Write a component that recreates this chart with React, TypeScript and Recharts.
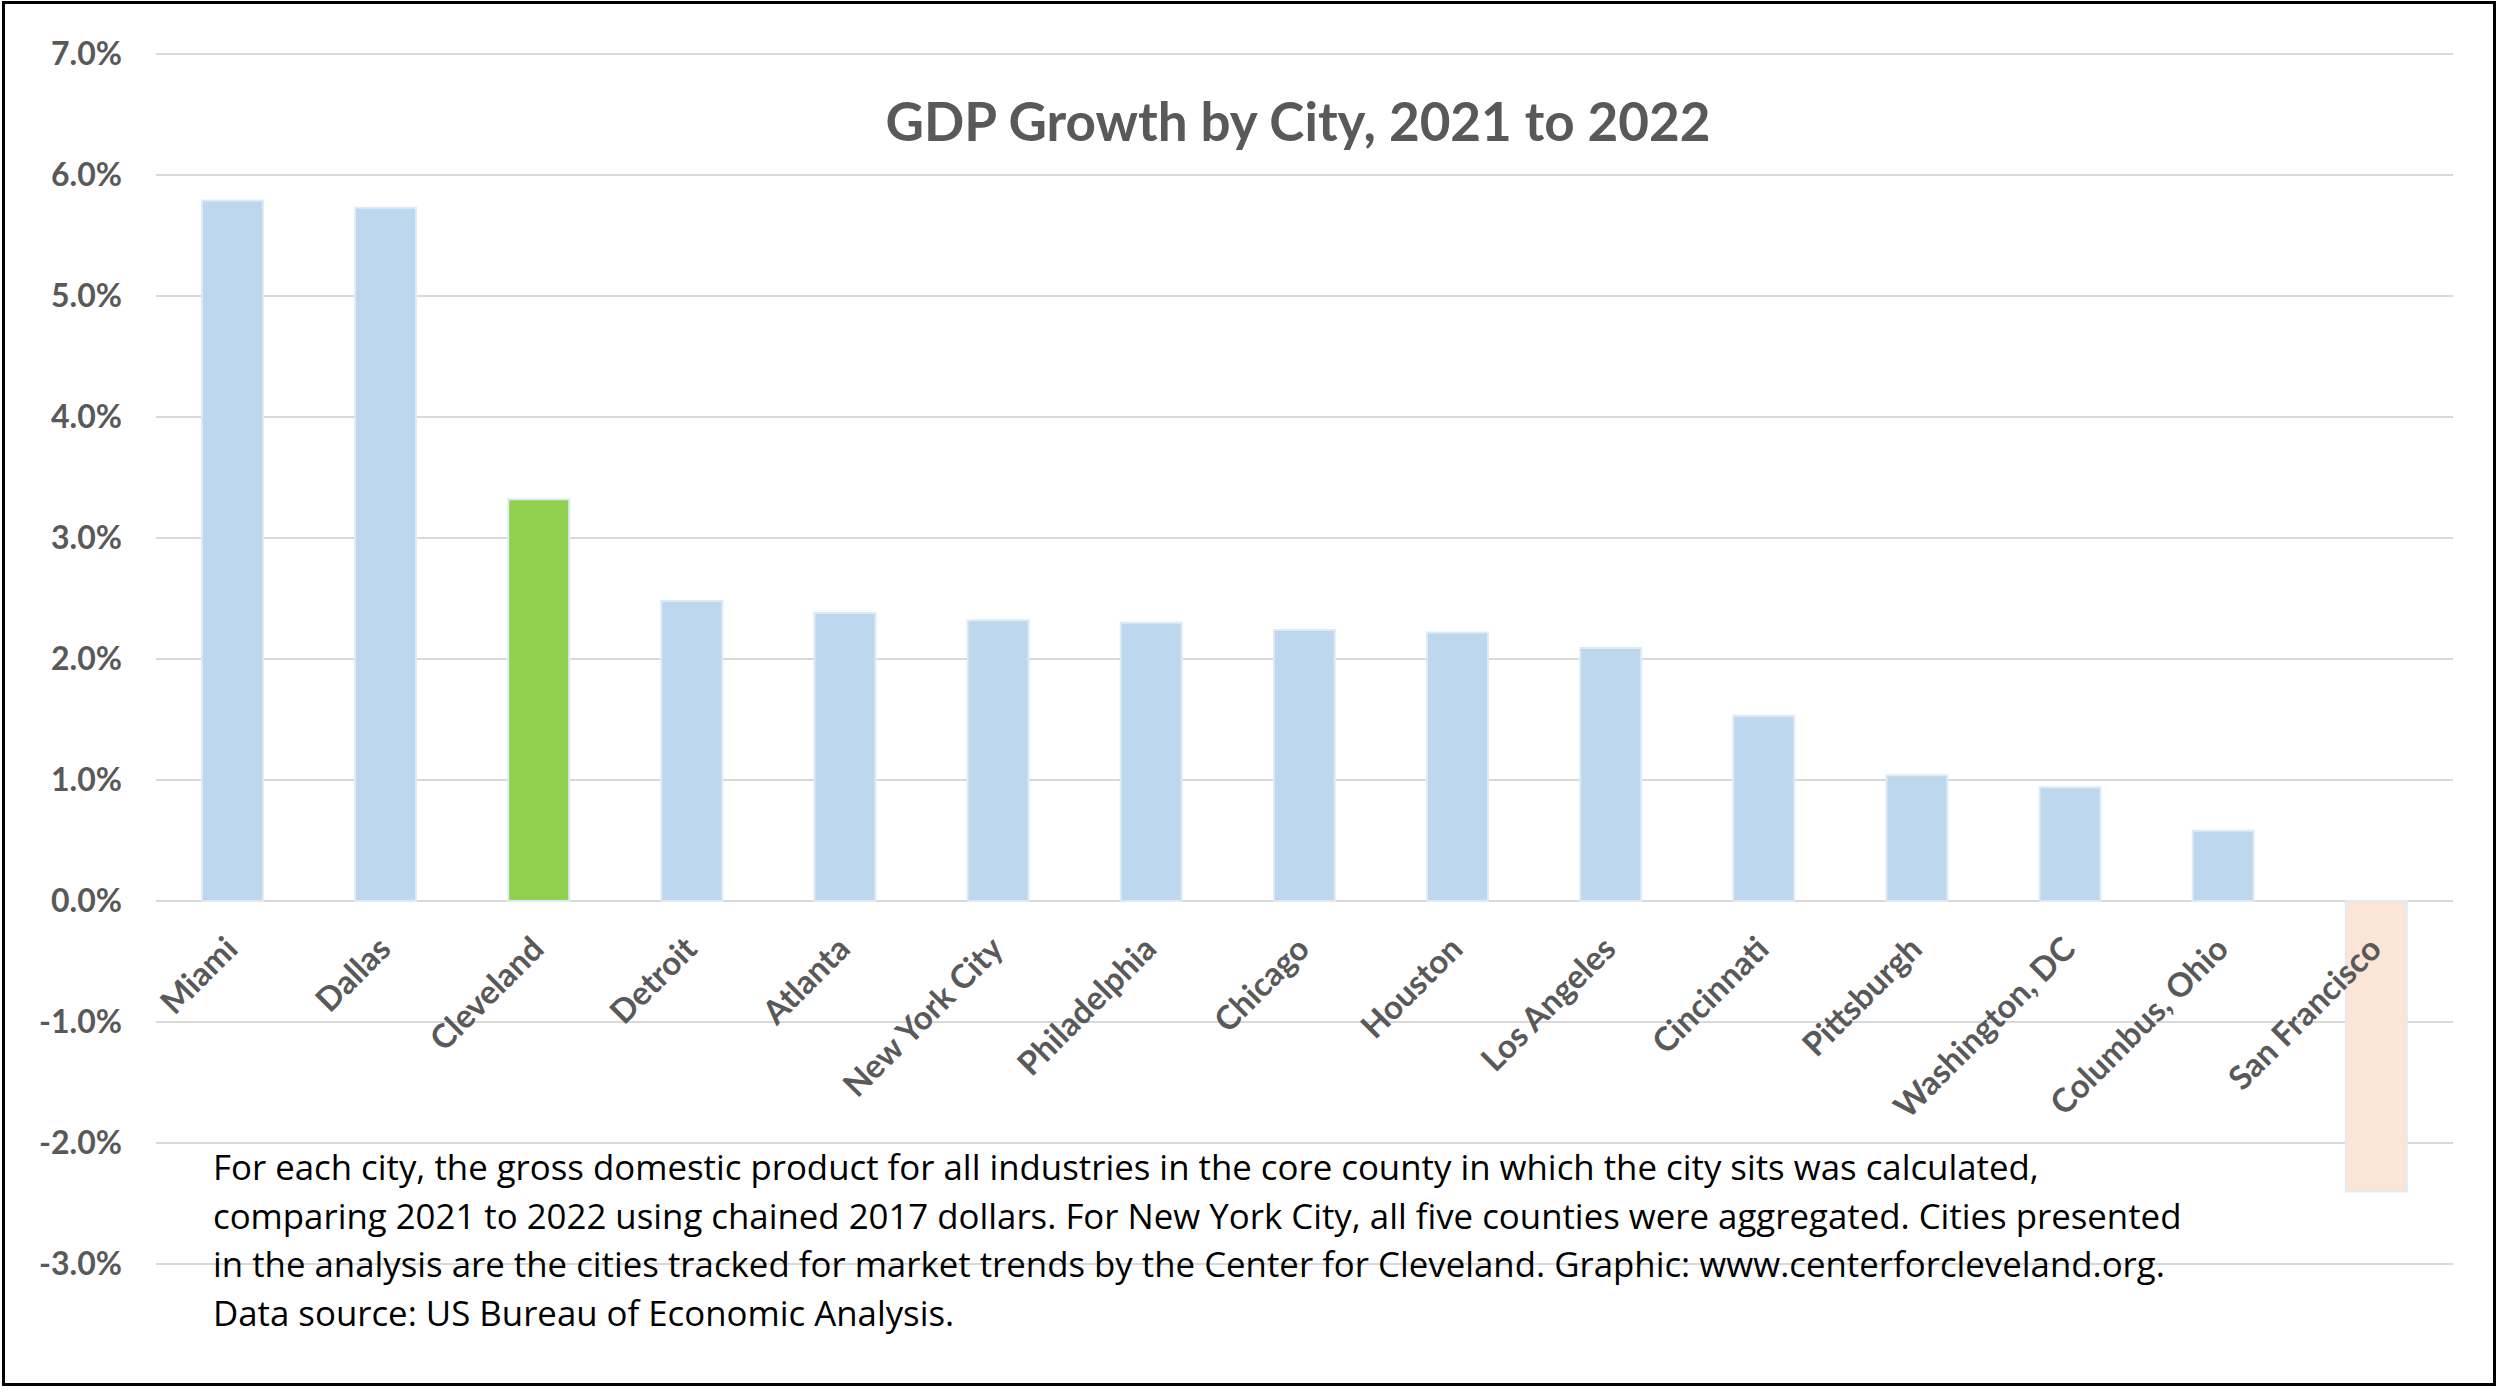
import React from 'react';
import { BarChart, Bar, XAxis, YAxis, CartesianGrid, Cell } from 'recharts';

const cities = [
  'Miami', 'Dallas', 'Cleveland', 'Detroit', 'Atlanta', 'New York City', 'Philadelphia',
  'Chicago', 'Houston', 'Los Angeles', 'Cincinnati', 'Pittsburgh', 'Washington, DC',
  'Columbus, Ohio', 'San Francisco',
];
const growth = [5.79, 5.73, 3.32, 2.48, 2.38, 2.32, 2.3, 2.24, 2.22, 2.09, 1.53, 1.04, 0.94, 0.58, -2.4];
const yTicks = [-3, -2, -1, 0, 1, 2, 3, 4, 5, 6, 7];
const titleText = 'GDP Growth by City, 2021 to 2022';
const noteLines = [
  'For each city, the gross domestic product for all industries in the core county in which the city sits was calculated,',
  'comparing 2021 to 2022 using chained 2017 dollars. For New York City, all five counties were aggregated. Cities presented',
  'in the analysis are the cities tracked for market trends by the Center for Cleveland. Graphic: www.centerforcleveland.org.',
  'Data source: US Bureau of Economic Analysis.',
];

const data = cities.map((city, i) => ({ city, growth: growth[i] }));

const W = 2500;
const H = 1391;
const PLOT_TOP = 54;
const PLOT_BOTTOM = 1264;
const PLOT_LEFT = 156;
const PLOT_RIGHT = 2453;
const Y_MIN = yTicks[0];
const Y_MAX = yTicks[yTicks.length - 1];
const ZERO_FROM_BOTTOM = ((PLOT_BOTTOM - PLOT_TOP) * (0 - Y_MIN)) / (Y_MAX - Y_MIN);

const GRAY = '#595959';
const FONT = 'Lato, "Open Sans", sans-serif';
const NOTE_FONT = '"Open Sans", Lato, sans-serif';

const colorFor = (city: string) => {
  if (city === 'Cleveland') return '#92d050';
  if (city === 'San Francisco') return '#fbe5d6';
  return '#bdd7ee';
};

const CityTick = (props: any) => {
  const { x, y, payload } = props;
  const ax = x + 7;
  const ay = y - ZERO_FROM_BOTTOM + 50;
  return (
    <text
      x={ax}
      y={ay}
      transform={`rotate(-45, ${ax}, ${ay})`}
      textAnchor="end"
      fill={GRAY}
      fontFamily={FONT}
      fontWeight={700}
      fontSize={33}
    >
      {payload.value}
    </text>
  );
};

export default function App() {
  return (
    <div style={{ position: 'relative', width: W, height: H, background: '#fff' }}>
      <style>{`body{margin:0;background:#fff;}`}</style>
      <div
        style={{
          position: 'absolute',
          left: 2,
          top: 1,
          width: 2494,
          height: 1385,
          border: '3px solid #000',
          boxSizing: 'border-box',
        }}
      />
      <div style={{ position: 'absolute', left: 0, top: 0 }}>
        <BarChart
          width={W}
          height={H}
          data={data}
          margin={{ top: PLOT_TOP, right: W - PLOT_RIGHT, left: 0, bottom: H - PLOT_BOTTOM - 1 }}
          barCategoryGap="30%"
        >
          <CartesianGrid vertical={false} stroke="#d9d9d9" strokeWidth={2} />
          <XAxis
            dataKey="city"
            height={1}
            axisLine={false}
            tickLine={false}
            tickSize={0}
            tickMargin={0}
            interval={0}
            tick={<CityTick />}
          />
          <YAxis
            width={PLOT_LEFT}
            domain={[Y_MIN, Y_MAX]}
            ticks={yTicks}
            type="number"
            axisLine={false}
            tickLine={false}
            tickSize={0}
            tickMargin={34}
            tickFormatter={(v: number) => `${v.toFixed(1)}%`}
            tick={{ fill: GRAY, fontFamily: FONT, fontWeight: 700, fontSize: 32 }}
          />
          <Bar dataKey="growth" isAnimationActive={false} stroke="#deebf7" strokeWidth={2}>
            {data.map((d) => (
              <Cell key={d.city} fill={colorFor(d.city)} />
            ))}
          </Bar>
        </BarChart>
      </div>
      <svg
        width={W}
        height={H}
        style={{ position: 'absolute', left: 0, top: 0, pointerEvents: 'none' }}
      >
        <text
          x={1298}
          y={141}
          textAnchor="middle"
          fill={GRAY}
          fontFamily={FONT}
          fontWeight={700}
          fontSize={53}
        >
          {titleText}
        </text>
        {noteLines.map((line, i) => (
          <text
            key={i}
            x={213}
            y={1180 + i * 48.5}
            fill="#000"
            fontFamily={NOTE_FONT}
            fontSize={34.8}
          >
            {line}
          </text>
        ))}
      </svg>
    </div>
  );
}
